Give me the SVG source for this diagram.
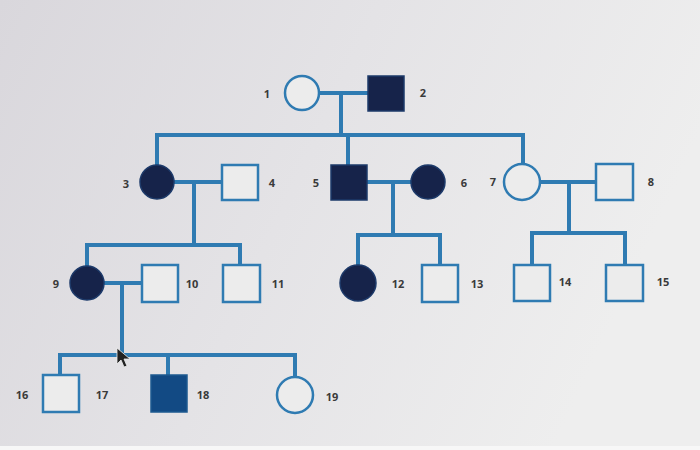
<svg xmlns="http://www.w3.org/2000/svg" width="700" height="450" viewBox="0 0 700 450">
<defs>
<linearGradient id="bg" x1="0" y1="0" x2="1" y2="0.3">
<stop offset="0" stop-color="#d9d7dc"/>
<stop offset="0.5" stop-color="#e4e3e6"/>
<stop offset="1" stop-color="#eeeeee"/>
</linearGradient>
<style>
.ln{stroke:#2f7bb2;stroke-width:4;fill:none;stroke-linecap:square}
.open{fill:#ececec;stroke:#2f7bb2;stroke-width:2.5}
.aff{fill:#16234a;stroke:#1d3a6a;stroke-width:1.5}
.aff2{fill:#124a84;stroke:#1d5a90;stroke-width:1.5}
.lb{font-family:"Open Sans","Liberation Sans",sans-serif;font-size:11px;font-weight:bold;fill:#3a3a3a;text-anchor:middle;dominant-baseline:central}
</style>
</defs>
<rect x="0" y="0" width="700" height="450" fill="url(#bg)"/>
<rect x="0" y="446" width="700" height="4" fill="#f7f7f7"/>

<g id="connectors">
<path class="ln" d="M319 93H368 M341 93V135 M157 135H523 M157 135V165 M348 135V165 M523 135V164"/>
<path class="ln" d="M174 182H222 M194 182V245 M87 245H240 M87 245V265 M240 245V265"/>
<path class="ln" d="M367 182H411 M393 182V235 M358 235H440 M358 235V265 M440 235V265"/>
<path class="ln" d="M540 182H596 M569 182V233 M532 233H625 M532 233V265 M625 233V265"/>
<path class="ln" d="M104 283H142 M122 283V355 M60 355H295 M60 355V375 M168 355V375 M295 355V376"/>
</g>

<g id="n1"><circle class="open" cx="302" cy="93" r="17"/><text class="lb" x="267" y="93">1</text></g>
<g id="n2"><rect class="aff" x="368" y="76" width="36" height="35"/><text class="lb" x="423" y="92">2</text></g>
<g id="n3"><circle class="aff" cx="157" cy="182" r="17"/><text class="lb" x="126" y="183">3</text></g>
<g id="n4"><rect class="open" x="222" y="165" width="36" height="35"/><text class="lb" x="272" y="182">4</text></g>
<g id="n5"><rect class="aff" x="331" y="165" width="36" height="35"/><text class="lb" x="316" y="182">5</text></g>
<g id="n6"><circle class="aff" cx="428" cy="182" r="17"/><text class="lb" x="464" y="182">6</text></g>
<g id="n7"><circle class="open" cx="522" cy="182" r="18"/><text class="lb" x="493" y="181">7</text></g>
<g id="n8"><rect class="open" x="596" y="164" width="37" height="36"/><text class="lb" x="651" y="181">8</text></g>
<g id="n9"><circle class="aff" cx="87" cy="283" r="17"/><text class="lb" x="56" y="283">9</text></g>
<g id="n10"><rect class="open" x="142" y="265" width="36" height="37"/><text class="lb" x="192" y="283">10</text></g>
<g id="n11"><rect class="open" x="223" y="265" width="37" height="37"/><text class="lb" x="278" y="283">11</text></g>
<g id="n12"><circle class="aff" cx="358" cy="283" r="18"/><text class="lb" x="398" y="283">12</text></g>
<g id="n13"><rect class="open" x="422" y="265" width="36" height="37"/><text class="lb" x="477" y="283">13</text></g>
<g id="n14"><rect class="open" x="514" y="265" width="36" height="36"/><text class="lb" x="565" y="281">14</text></g>
<g id="n15"><rect class="open" x="606" y="265" width="37" height="36"/><text class="lb" x="663" y="281">15</text></g>
<g id="n16"><rect class="open" x="43" y="375" width="36" height="37"/><text class="lb" x="22" y="394">16</text></g>
<g id="n17"><text class="lb" x="102" y="394">17</text></g>
<g id="n18"><rect class="aff2" x="151" y="375" width="36" height="37"/><text class="lb" x="203" y="394">18</text></g>
<g id="n19"><circle class="open" cx="295" cy="395" r="18"/><text class="lb" x="332" y="396">19</text></g>

<g id="cursor"><path d="M117 348 L117 364 L121 360 L124 367 L127 366 L124 359 L130 359 Z" fill="#222" stroke="#eee" stroke-width="0.8"/></g>
</svg>
